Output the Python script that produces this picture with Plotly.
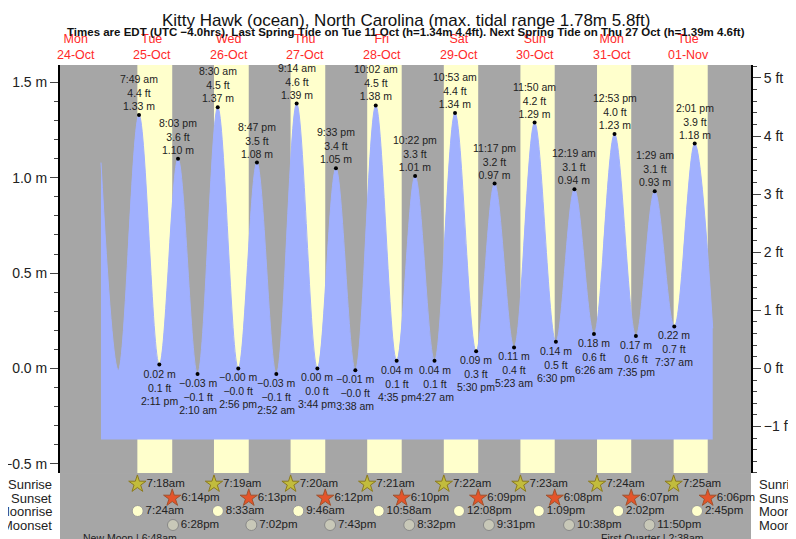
import plotly.graph_objects as go

# tide extremes (EDT), level in metres
tide_times = [
    "2022-10-24 19:54", "2022-10-25 01:20",
    "2022-10-25 07:49", "2022-10-25 14:11", "2022-10-25 20:03",
    "2022-10-26 02:10", "2022-10-26 08:30", "2022-10-26 14:56", "2022-10-26 20:47",
    "2022-10-27 02:52", "2022-10-27 09:14", "2022-10-27 15:44", "2022-10-27 21:33",
    "2022-10-28 03:38", "2022-10-28 10:02", "2022-10-28 16:35", "2022-10-28 22:22",
    "2022-10-29 04:27", "2022-10-29 10:53", "2022-10-29 17:30", "2022-10-29 23:17",
    "2022-10-30 05:23", "2022-10-30 11:50", "2022-10-30 18:30",
    "2022-10-31 00:19", "2022-10-31 06:26", "2022-10-31 12:53", "2022-10-31 19:35",
    "2022-11-01 01:29", "2022-11-01 07:37", "2022-11-01 14:01", "2022-11-01 19:40",
]
tide_levels = [
    1.08, -0.01,
    1.33, 0.02, 1.10,
    -0.03, 1.37, -0.0, 1.08,
    -0.03, 1.39, 0.00, 1.05,
    -0.01, 1.38, 0.04, 1.01,
    0.04, 1.34, 0.09, 0.97,
    0.11, 1.29, 0.14,
    0.94, 0.18, 1.23, 0.17,
    0.93, 0.22, 1.18, 0.21,
]
# labelled extremes: index into the lists above, and displayed clock time
labelled = list(range(2, 31))
label_clock = [
    "7:49 am", "2:11 pm", "8:03 pm",
    "2:10 am", "8:30 am", "2:56 pm", "8:47 pm",
    "2:52 am", "9:14 am", "3:44 pm", "9:33 pm",
    "3:38 am", "10:02 am", "4:35 pm", "10:22 pm",
    "4:27 am", "10:53 am", "5:30 pm", "11:17 pm",
    "5:23 am", "11:50 am", "6:30 pm",
    "12:19 am", "6:26 am", "12:53 pm", "7:35 pm",
    "1:29 am", "7:37 am", "2:01 pm",
]

days = ["2022-10-24", "2022-10-25", "2022-10-26", "2022-10-27", "2022-10-28",
        "2022-10-29", "2022-10-30", "2022-10-31", "2022-11-01"]
day_names = ["Mon", "Tue", "Wed", "Thu", "Fri", "Sat", "Sun", "Mon", "Tue"]
day_dates = ["24-Oct", "25-Oct", "26-Oct", "27-Oct", "28-Oct", "29-Oct", "30-Oct", "31-Oct", "01-Nov"]

ev_days = days[1:]
sunrise = ["07:18", "07:19", "07:20", "07:21", "07:22", "07:23", "07:24", "07:25"]
sunrise_txt = ["7:18am", "7:19am", "7:20am", "7:21am", "7:22am", "7:23am", "7:24am", "7:25am"]
sunset = ["18:14", "18:13", "18:12", "18:10", "18:09", "18:08", "18:07", "18:06"]
sunset_txt = ["6:14pm", "6:13pm", "6:12pm", "6:10pm", "6:09pm", "6:08pm", "6:07pm", "6:06pm"]
moonrise = ["07:24", "08:33", "09:46", "10:58", "12:08", "13:09", "14:02", "14:45"]
moonrise_txt = ["7:24am", "8:33am", "9:46am", "10:58am", "12:08pm", "1:09pm", "2:02pm", "2:45pm"]
moonset_days = days[1:8]
moonset = ["18:28", "19:02", "19:43", "20:32", "21:31", "22:38", "23:50"]
moonset_txt = ["6:28pm", "7:02pm", "7:43pm", "8:32pm", "9:31pm", "10:38pm", "11:50pm"]
phases = [("2022-10-25 06:48", "New Moon | 6:48am"), ("2022-11-01 02:38", "First Quarter | 2:38am")]

BASE = -0.373
Y_RANGE = [-0.549, 1.592]
X_RANGE = ["2022-10-24 07:03", "2022-11-02 07:40"]
FONT = "Liberation Sans, Arial, sans-serif"
GRAY, YELLOW, BLUE = "#a6a6a6", "#ffffcc", "#a0b0fe"


def mtxt(v, fmt):
    return format(v, fmt).replace("-", "\u2212")


fig = go.Figure()

fig.add_trace(go.Scatter(x=[tide_times[0], tide_times[-1]], y=[BASE, BASE], mode="lines",
                         line=dict(width=0), hoverinfo="skip", showlegend=False))
fig.add_trace(go.Scatter(x=tide_times, y=tide_levels, mode="lines", fill="tonexty",
                         fillcolor=BLUE, line=dict(color=BLUE, width=1, shape="spline", smoothing=1.0),
                         showlegend=False))
fig.add_trace(go.Scatter(x=[tide_times[i] for i in labelled], y=[tide_levels[i] for i in labelled],
                         mode="markers", marker=dict(color="black", size=4), showlegend=False))
# invisible trace to carry the feet axis
fig.add_trace(go.Scatter(x=[tide_times[0]], y=[0], yaxis="y2", mode="markers",
                         marker=dict(opacity=0), showlegend=False, hoverinfo="skip"))

for k, i in enumerate(labelled):
    m = tide_levels[i]
    is_high = m > 0.5
    lines = [mtxt(m, ".2f") + " m", mtxt(m / 0.3048, ".1f") + " ft", label_clock[k]]
    if is_high:
        lines = lines[::-1]
    fig.add_annotation(x=tide_times[i], y=m, text="<br>".join(lines), showarrow=False,
                       yanchor="bottom" if is_high else "top", yshift=1 if is_high else -1,
                       font=dict(size=10.5, color="#222", family=FONT))

# night / day background
for d, sr, ss in zip(ev_days, sunrise, sunset):
    fig.add_shape(type="rect", xref="x", yref="y", x0=f"{d} {sr}", x1=f"{d} {ss}",
                  y0=Y_RANGE[0], y1=Y_RANGE[1], fillcolor=YELLOW, line_width=0, layer="below")

for d, n, dt in zip(days, day_names, day_dates):
    fig.add_annotation(x=f"{d} 12:00", y=1.0, yref="paper", yanchor="bottom", yshift=1,
                       text=f"{n}<br>{dt}", showarrow=False,
                       font=dict(size=12.5, color="#ff2a2a", family=FONT))

fig.add_annotation(x=0.5, xref="paper", y=1.0, yref="paper", yshift=33, yanchor="bottom",
                   text="Kitty Hawk (ocean), North Carolina (max. tidal range 1.78m 5.8ft)",
                   showarrow=False, font=dict(size=17, color="#111", family=FONT))
fig.add_annotation(x=0.5, xref="paper", y=1.0, yref="paper", yshift=25, yanchor="bottom",
                   text="<b>Times are EDT (UTC \u22124.0hrs). Last Spring Tide on Tue 11 Oct "
                        "(h=1.34m 4.4ft). Next Spring Tide on Thu 27 Oct (h=1.39m 4.6ft)</b>",
                   showarrow=False, font=dict(size=11.5, color="#111", family=FONT))

# sun / moon rows (y3 is in pixel units from the top)
rows = [
    ("Sunrise", -476, ev_days, sunrise, sunrise_txt, "star", "#c2bc3c", "#8c7a1e", 13),
    ("Sunset", -490, ev_days, sunset, sunset_txt, "star", "#e5542a", "#a0522d", 13),
    ("Moonrise", -503, ev_days, moonrise, moonrise_txt, "circle", "#ffffcc", "#999999", 11),
    ("Moonset", -517, moonset_days, moonset, moonset_txt, "circle", "#c8c8b8", "#888888", 11),
]
for name, yy, dd, tt, txt, sym, col, edge, sz in rows:
    fig.add_trace(go.Scatter(x=[f"{d} {t}" for d, t in zip(dd, tt)], y=[yy] * len(tt), yaxis="y3",
                             mode="markers+text", text=txt, textposition="middle right",
                             textfont=dict(size=11.5, color="#222", family=FONT),
                             marker=dict(symbol=sym, size=sz, color=col, line=dict(color=edge, width=1)),
                             showlegend=False, cliponaxis=False))
    for xp, anchor in ((-0.008, "right"), (1.008, "left")):
        fig.add_annotation(x=xp, xref="paper", y=yy, yref="y3", text=name, xanchor=anchor,
                           showarrow=False, font=dict(size=13, color="#222", family=FONT))
for t, txt in phases:
    fig.add_annotation(x=t, y=-530, yref="y3", text=txt, showarrow=False, xshift=-6,
                       font=dict(size=10.5, color="#222", family=FONT))

fig.update_layout(
    width=796, height=539, margin=dict(l=52, r=53, t=57, b=4, autoexpand=False),
    paper_bgcolor="white", plot_bgcolor=GRAY,
    font=dict(family=FONT, color="#222"),
    xaxis=dict(range=X_RANGE, type="date", showticklabels=False, showgrid=False, zeroline=False,
               ticks="", anchor="y", automargin=False),
    yaxis=dict(domain=[0.1464, 1], range=Y_RANGE, dtick=0.5, tickformat=".1f", ticksuffix=" m",
               showgrid=False, zeroline=False, ticks="outside", ticklen=8, showline=True,
               linecolor="black", linewidth=2, tickfont=dict(size=14), automargin=False,
               minor=dict(dtick=0.1, ticks="outside", ticklen=4)),
    yaxis2=dict(overlaying="y", side="right", range=[v / 0.3048 for v in Y_RANGE], dtick=1,
                ticksuffix=" ft", showgrid=False, zeroline=False, ticks="outside", ticklen=8,
                showline=True, linecolor="black", linewidth=2, tickfont=dict(size=14),
                automargin=False, minor=dict(dtick=0.2, ticks="outside", ticklen=4)),
    yaxis3=dict(domain=[0, 0.1464], range=[-535, -465], visible=False, anchor="x", automargin=False),
)

fig.write_html("out.html")
